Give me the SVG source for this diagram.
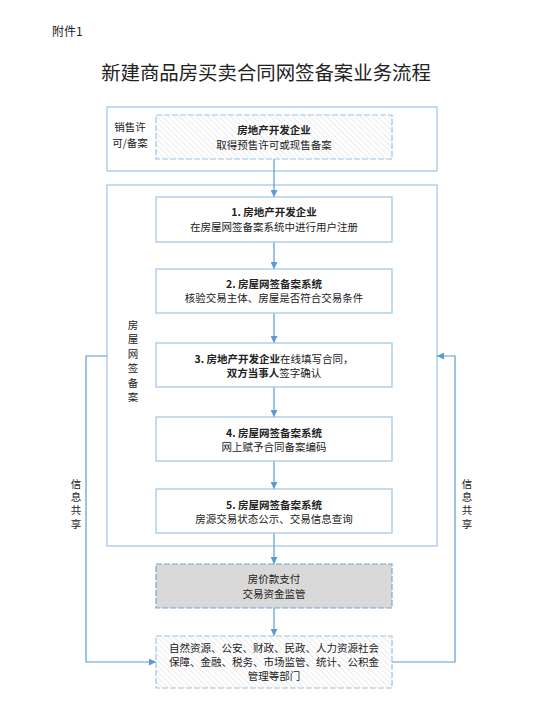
<svg xmlns="http://www.w3.org/2000/svg" width="539" height="713" viewBox="0 0 539 713">
<style>
text{font-family:"Noto Sans CJK SC","Liberation Sans",sans-serif;fill:#222;}
.t{font-size:10.5px;text-anchor:middle;}
.v{font-size:10.5px;writing-mode:vertical-rl;text-orientation:upright;}
.b{font-weight:bold;}
.frame{fill:#fff;stroke:#9dc3e6;stroke-width:1.2;}
.box{fill:#fff;stroke:#9dc3e6;stroke-width:1.2;}
.dash{fill:url(#hatch);stroke:#9dc3e6;stroke-width:1.2;stroke-dasharray:6 2;}
.gray{fill:#d9d9d9;stroke:#6fa8dc;stroke-width:1.2;stroke-dasharray:6 2;}
.c{fill:none;stroke:#5b9bd5;stroke-width:1.2;}
</style>
<defs>
<pattern id="hatch" width="4" height="4" patternUnits="userSpaceOnUse" patternTransform="rotate(-45)">
<rect width="4" height="4" fill="#fff"/>
<line x1="0" y1="0" x2="0" y2="4" stroke="#cfcfcf" stroke-width="0.8"/>
</pattern>
<marker id="ah" viewBox="0 0 10 10" refX="10" refY="5" markerWidth="7" markerHeight="7" orient="auto" markerUnits="userSpaceOnUse">
<path d="M0,0 L10,5 L0,10 z" fill="#5b9bd5"/>
</marker>
</defs>
<rect width="539" height="713" fill="#fff"/>
<text x="52" y="36" style="font-size:12px">附件1</text>
<text x="266" y="80" style="font-size:19.4px;text-anchor:middle">新建商品房买卖合同网签备案业务流程</text>

<g id="frame-permit">
<rect class="frame" x="107" y="107" width="330" height="64"/>
<text x="130" y="131" class="t">销售许</text>
<text x="130" y="147" class="t">可/备案</text>
</g>
<g id="frame-sign">
<rect class="frame" x="107" y="185" width="330" height="361"/>
<text x="133" y="319.5" class="v" style="letter-spacing:4px">房屋网签备案</text>
</g>

<g id="connectors">
<line class="c" x1="274" y1="159" x2="274" y2="197" marker-end="url(#ah)"/>
<line class="c" x1="274" y1="242" x2="274" y2="269" marker-end="url(#ah)"/>
<line class="c" x1="274" y1="313" x2="274" y2="343" marker-end="url(#ah)"/>
<line class="c" x1="274" y1="387" x2="274" y2="417" marker-end="url(#ah)"/>
<line class="c" x1="274" y1="461" x2="274" y2="489" marker-end="url(#ah)"/>
<line class="c" x1="274" y1="533" x2="274" y2="564" marker-end="url(#ah)"/>
<line class="c" x1="274" y1="608" x2="274" y2="636" marker-end="url(#ah)"/>
<polyline class="c" points="107,356 86,356 86,662 156,662" marker-end="url(#ah)"/>
<polyline class="c" points="392,662 455,662 455,356 437,356" marker-end="url(#ah)"/>
<text x="76" y="478.5" class="v" style="letter-spacing:2.8px">信息共享</text>
<text x="467" y="478.5" class="v" style="letter-spacing:2.8px">信息共享</text>
</g>

<g id="n0">
<rect class="dash" x="156" y="115" width="236" height="44"/>
<text x="274" y="134" class="t b">房地产开发企业</text>
<text x="274" y="149" class="t">取得预售许可或现售备案</text>
</g>
<g id="n1">
<rect class="box" x="156" y="197" width="236" height="45"/>
<text x="274" y="216" class="t b">1. 房地产开发企业</text>
<text x="274" y="231" class="t">在房屋网签备案系统中进行用户注册</text>
</g>
<g id="n2">
<rect class="box" x="156" y="269" width="236" height="44"/>
<text x="274" y="288" class="t b">2. 房屋网签备案系统</text>
<text x="274" y="302" class="t">核验交易主体、房屋是否符合交易条件</text>
</g>
<g id="n3">
<rect class="box" x="156" y="343" width="236" height="44"/>
<text x="274" y="362.5" class="t"><tspan class="b">3. 房地产开发企业</tspan>在线填写合同，</text>
<text x="274" y="377" class="t"><tspan class="b">双方当事人</tspan>签字确认</text>
</g>
<g id="n4">
<rect class="box" x="156" y="417" width="236" height="44"/>
<text x="274" y="436.5" class="t b">4. 房屋网签备案系统</text>
<text x="274" y="451" class="t">网上赋予合同备案编码</text>
</g>
<g id="n5">
<rect class="box" x="156" y="489" width="236" height="44"/>
<text x="274" y="508.5" class="t b">5. 房屋网签备案系统</text>
<text x="274" y="523" class="t">房源交易状态公示、交易信息查询</text>
</g>
<g id="n6">
<rect class="gray" x="156" y="564" width="236" height="44"/>
<text x="274" y="583" class="t">房价款支付</text>
<text x="274" y="598" class="t">交易资金监管</text>
</g>
<g id="n7">
<rect class="dash" x="156" y="636" width="236" height="52"/>
<text x="274" y="652" class="t">自然资源、公安、财政、民政、人力资源社会</text>
<text x="274" y="666" class="t">保障、金融、税务、市场监管、统计、公积金</text>
<text x="274" y="680" class="t">管理等部门</text>
</g>
</svg>
